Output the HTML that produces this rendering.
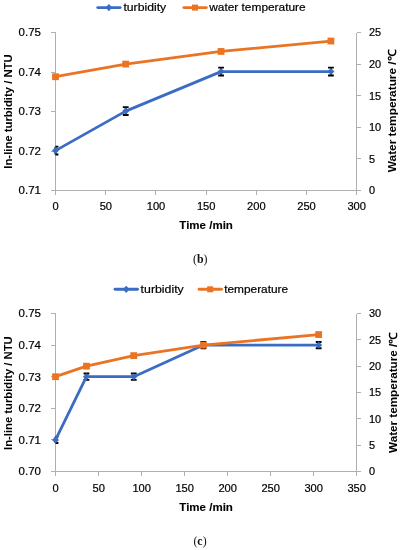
<!DOCTYPE html>
<html><head><meta charset="utf-8"><title>chart</title>
<style>
html,body{margin:0;padding:0;background:#fff;}
svg{display:block;font-family:"Liberation Sans", sans-serif;}
</style></head><body>
<svg width="402" height="550" viewBox="0 0 402 550">
<rect width="402" height="550" fill="#fff"/>
<g stroke="#B0B0B0" stroke-width="1" fill="none" shape-rendering="crispEdges">
<line x1="55.5" y1="32.5" x2="55.5" y2="190.5"/>
<line x1="356.5" y1="32.5" x2="356.5" y2="190.5"/>
<line x1="55.5" y1="190.5" x2="356.5" y2="190.5"/>
<line x1="51.2" y1="190.50" x2="55.5" y2="190.50"/>
<line x1="51.2" y1="151.00" x2="55.5" y2="151.00"/>
<line x1="51.2" y1="111.50" x2="55.5" y2="111.50"/>
<line x1="51.2" y1="72.00" x2="55.5" y2="72.00"/>
<line x1="51.2" y1="32.50" x2="55.5" y2="32.50"/>
<line x1="356.5" y1="190.50" x2="360.5" y2="190.50"/>
<line x1="356.5" y1="158.90" x2="360.5" y2="158.90"/>
<line x1="356.5" y1="127.30" x2="360.5" y2="127.30"/>
<line x1="356.5" y1="95.70" x2="360.5" y2="95.70"/>
<line x1="356.5" y1="64.10" x2="360.5" y2="64.10"/>
<line x1="356.5" y1="32.50" x2="360.5" y2="32.50"/>
<line x1="55.50" y1="190.5" x2="55.50" y2="194.5"/>
<line x1="105.67" y1="190.5" x2="105.67" y2="194.5"/>
<line x1="155.83" y1="190.5" x2="155.83" y2="194.5"/>
<line x1="206.00" y1="190.5" x2="206.00" y2="194.5"/>
<line x1="256.17" y1="190.5" x2="256.17" y2="194.5"/>
<line x1="306.33" y1="190.5" x2="306.33" y2="194.5"/>
<line x1="356.50" y1="190.5" x2="356.50" y2="194.5"/>
</g>
<text x="41.0" y="194.40" text-anchor="end" font-size="10.9" font-weight="normal" fill="#000" stroke="#000" stroke-width="0.2" textLength="22.4" lengthAdjust="spacingAndGlyphs">0.71</text>
<text x="41.0" y="154.90" text-anchor="end" font-size="10.9" font-weight="normal" fill="#000" stroke="#000" stroke-width="0.2" textLength="22.4" lengthAdjust="spacingAndGlyphs">0.72</text>
<text x="41.0" y="115.40" text-anchor="end" font-size="10.9" font-weight="normal" fill="#000" stroke="#000" stroke-width="0.2" textLength="22.4" lengthAdjust="spacingAndGlyphs">0.73</text>
<text x="41.0" y="75.90" text-anchor="end" font-size="10.9" font-weight="normal" fill="#000" stroke="#000" stroke-width="0.2" textLength="22.4" lengthAdjust="spacingAndGlyphs">0.74</text>
<text x="41.0" y="36.40" text-anchor="end" font-size="10.9" font-weight="normal" fill="#000" stroke="#000" stroke-width="0.2" textLength="22.4" lengthAdjust="spacingAndGlyphs">0.75</text>
<text x="369.0" y="194.40" text-anchor="start" font-size="10.9" font-weight="normal" fill="#000" stroke="#000" stroke-width="0.2" textLength="6.1" lengthAdjust="spacingAndGlyphs">0</text>
<text x="369.0" y="162.80" text-anchor="start" font-size="10.9" font-weight="normal" fill="#000" stroke="#000" stroke-width="0.2" textLength="6.1" lengthAdjust="spacingAndGlyphs">5</text>
<text x="369.0" y="131.20" text-anchor="start" font-size="10.9" font-weight="normal" fill="#000" stroke="#000" stroke-width="0.2" textLength="12.2" lengthAdjust="spacingAndGlyphs">10</text>
<text x="369.0" y="99.60" text-anchor="start" font-size="10.9" font-weight="normal" fill="#000" stroke="#000" stroke-width="0.2" textLength="12.2" lengthAdjust="spacingAndGlyphs">15</text>
<text x="369.0" y="68.00" text-anchor="start" font-size="10.9" font-weight="normal" fill="#000" stroke="#000" stroke-width="0.2" textLength="12.2" lengthAdjust="spacingAndGlyphs">20</text>
<text x="369.0" y="36.40" text-anchor="start" font-size="10.9" font-weight="normal" fill="#000" stroke="#000" stroke-width="0.2" textLength="12.2" lengthAdjust="spacingAndGlyphs">25</text>
<text x="55.70" y="210.1" text-anchor="middle" font-size="10.9" font-weight="normal" fill="#000" stroke="#000" stroke-width="0.2" textLength="6.2" lengthAdjust="spacingAndGlyphs">0</text>
<text x="105.87" y="210.1" text-anchor="middle" font-size="10.9" font-weight="normal" fill="#000" stroke="#000" stroke-width="0.2" textLength="12.4" lengthAdjust="spacingAndGlyphs">50</text>
<text x="156.03" y="210.1" text-anchor="middle" font-size="10.9" font-weight="normal" fill="#000" stroke="#000" stroke-width="0.2" textLength="18.6" lengthAdjust="spacingAndGlyphs">100</text>
<text x="206.20" y="210.1" text-anchor="middle" font-size="10.9" font-weight="normal" fill="#000" stroke="#000" stroke-width="0.2" textLength="18.6" lengthAdjust="spacingAndGlyphs">150</text>
<text x="256.37" y="210.1" text-anchor="middle" font-size="10.9" font-weight="normal" fill="#000" stroke="#000" stroke-width="0.2" textLength="18.6" lengthAdjust="spacingAndGlyphs">200</text>
<text x="306.53" y="210.1" text-anchor="middle" font-size="10.9" font-weight="normal" fill="#000" stroke="#000" stroke-width="0.2" textLength="18.6" lengthAdjust="spacingAndGlyphs">250</text>
<text x="356.70" y="210.1" text-anchor="middle" font-size="10.9" font-weight="normal" fill="#000" stroke="#000" stroke-width="0.2" textLength="18.6" lengthAdjust="spacingAndGlyphs">300</text>
<path d="M55.50 146.65V154.55M55.50 146.65H58.40M55.50 154.55H58.40" stroke="#000" stroke-width="1.9" fill="none"/>
<path d="M125.73 107.15V115.05M122.83 107.15H128.63M122.83 115.05H128.63" stroke="#000" stroke-width="1.9" fill="none"/>
<path d="M221.05 67.65V75.55M218.15 67.65H223.95M218.15 75.55H223.95" stroke="#000" stroke-width="1.9" fill="none"/>
<path d="M330.92 67.65V75.55M328.02 67.65H333.81M328.02 75.55H333.81" stroke="#000" stroke-width="1.9" fill="none"/>
<polyline points="55.50,150.60 125.73,111.10 221.05,71.60 330.92,71.60" fill="none" stroke="#3B6CC3" stroke-width="2.8" stroke-linejoin="round" stroke-linecap="round"/>
<path d="M52.00 150.60L55.50 147.10L59.00 150.60L55.50 154.10Z" fill="#3B6CC3"/>
<path d="M122.23 111.10L125.73 107.60L129.23 111.10L125.73 114.60Z" fill="#3B6CC3"/>
<path d="M217.55 71.60L221.05 68.10L224.55 71.60L221.05 75.10Z" fill="#3B6CC3"/>
<path d="M327.42 71.60L330.92 68.10L334.42 71.60L330.92 75.10Z" fill="#3B6CC3"/>
<polyline points="55.50,76.74 125.73,64.10 221.05,51.46 330.92,41.03" fill="none" stroke="#EB7424" stroke-width="2.8" stroke-linejoin="round" stroke-linecap="round"/>
<rect x="52.10" y="73.34" width="6.8" height="6.8" fill="#EB7424"/>
<rect x="122.33" y="60.70" width="6.8" height="6.8" fill="#EB7424"/>
<rect x="217.65" y="48.06" width="6.8" height="6.8" fill="#EB7424"/>
<rect x="327.52" y="37.63" width="6.8" height="6.8" fill="#EB7424"/>
<line x1="97.80000000000001" y1="7.6" x2="120.2" y2="7.6" stroke="#3B6CC3" stroke-width="2.9" stroke-linecap="round"/>
<path d="M105.5 7.6L108.9 3.9999999999999996L112.30000000000001 7.6L108.9 11.2Z" fill="#3B6CC3"/>
<text x="123.4" y="10.899999999999999" text-anchor="start" font-size="11.3" font-weight="normal" fill="#000" stroke="#000" stroke-width="0.2" textLength="42.8" lengthAdjust="spacingAndGlyphs">turbidity</text>
<line x1="183.9" y1="7.6" x2="206.3" y2="7.6" stroke="#EB7424" stroke-width="2.9" stroke-linecap="round"/>
<rect x="192.0" y="4.6" width="6" height="6" fill="#EB7424"/>
<text x="209.2" y="10.899999999999999" text-anchor="start" font-size="11.3" font-weight="normal" fill="#000" stroke="#000" stroke-width="0.2" textLength="96.5" lengthAdjust="spacingAndGlyphs">water temperature</text>
<text x="206.1" y="228.8" text-anchor="middle" font-size="10.5" font-weight="bold" fill="#000" stroke="#000" stroke-width="0.1" textLength="53.6" lengthAdjust="spacingAndGlyphs">Time /min</text>
<text transform="translate(11.6,111.5) rotate(-90)" text-anchor="middle" font-size="10.5" font-weight="bold" fill="#000" textLength="114.4" lengthAdjust="spacingAndGlyphs">In-line turbidity / NTU</text>
<text transform="translate(396.3,110.85) rotate(-90)" text-anchor="middle" font-size="11" font-weight="bold" fill="#000" textLength="122.7" lengthAdjust="spacingAndGlyphs">Water temperature /℃</text>
<text x="200.3" y="263" text-anchor="middle" font-size="12.5" fill="#111" textLength="14.6" lengthAdjust="spacingAndGlyphs" font-family='"Liberation Serif", serif'>(<tspan font-weight="bold">b</tspan>)</text>
<g stroke="#B0B0B0" stroke-width="1" fill="none" shape-rendering="crispEdges">
<line x1="55.5" y1="313.5" x2="55.5" y2="471.5"/>
<line x1="356.5" y1="313.5" x2="356.5" y2="471.5"/>
<line x1="55.5" y1="471.5" x2="356.5" y2="471.5"/>
<line x1="51.2" y1="471.50" x2="55.5" y2="471.50"/>
<line x1="51.2" y1="439.90" x2="55.5" y2="439.90"/>
<line x1="51.2" y1="408.30" x2="55.5" y2="408.30"/>
<line x1="51.2" y1="376.70" x2="55.5" y2="376.70"/>
<line x1="51.2" y1="345.10" x2="55.5" y2="345.10"/>
<line x1="51.2" y1="313.50" x2="55.5" y2="313.50"/>
<line x1="356.5" y1="471.50" x2="360.5" y2="471.50"/>
<line x1="356.5" y1="445.17" x2="360.5" y2="445.17"/>
<line x1="356.5" y1="418.83" x2="360.5" y2="418.83"/>
<line x1="356.5" y1="392.50" x2="360.5" y2="392.50"/>
<line x1="356.5" y1="366.17" x2="360.5" y2="366.17"/>
<line x1="356.5" y1="339.83" x2="360.5" y2="339.83"/>
<line x1="356.5" y1="313.50" x2="360.5" y2="313.50"/>
<line x1="55.50" y1="471.5" x2="55.50" y2="475.5"/>
<line x1="98.50" y1="471.5" x2="98.50" y2="475.5"/>
<line x1="141.50" y1="471.5" x2="141.50" y2="475.5"/>
<line x1="184.50" y1="471.5" x2="184.50" y2="475.5"/>
<line x1="227.50" y1="471.5" x2="227.50" y2="475.5"/>
<line x1="270.50" y1="471.5" x2="270.50" y2="475.5"/>
<line x1="313.50" y1="471.5" x2="313.50" y2="475.5"/>
<line x1="356.50" y1="471.5" x2="356.50" y2="475.5"/>
</g>
<text x="41.0" y="475.40" text-anchor="end" font-size="10.9" font-weight="normal" fill="#000" stroke="#000" stroke-width="0.2" textLength="22.4" lengthAdjust="spacingAndGlyphs">0.70</text>
<text x="41.0" y="443.80" text-anchor="end" font-size="10.9" font-weight="normal" fill="#000" stroke="#000" stroke-width="0.2" textLength="22.4" lengthAdjust="spacingAndGlyphs">0.71</text>
<text x="41.0" y="412.20" text-anchor="end" font-size="10.9" font-weight="normal" fill="#000" stroke="#000" stroke-width="0.2" textLength="22.4" lengthAdjust="spacingAndGlyphs">0.72</text>
<text x="41.0" y="380.60" text-anchor="end" font-size="10.9" font-weight="normal" fill="#000" stroke="#000" stroke-width="0.2" textLength="22.4" lengthAdjust="spacingAndGlyphs">0.73</text>
<text x="41.0" y="349.00" text-anchor="end" font-size="10.9" font-weight="normal" fill="#000" stroke="#000" stroke-width="0.2" textLength="22.4" lengthAdjust="spacingAndGlyphs">0.74</text>
<text x="41.0" y="317.40" text-anchor="end" font-size="10.9" font-weight="normal" fill="#000" stroke="#000" stroke-width="0.2" textLength="22.4" lengthAdjust="spacingAndGlyphs">0.75</text>
<text x="369.0" y="475.40" text-anchor="start" font-size="10.9" font-weight="normal" fill="#000" stroke="#000" stroke-width="0.2" textLength="6.1" lengthAdjust="spacingAndGlyphs">0</text>
<text x="369.0" y="449.07" text-anchor="start" font-size="10.9" font-weight="normal" fill="#000" stroke="#000" stroke-width="0.2" textLength="6.1" lengthAdjust="spacingAndGlyphs">5</text>
<text x="369.0" y="422.73" text-anchor="start" font-size="10.9" font-weight="normal" fill="#000" stroke="#000" stroke-width="0.2" textLength="12.2" lengthAdjust="spacingAndGlyphs">10</text>
<text x="369.0" y="396.40" text-anchor="start" font-size="10.9" font-weight="normal" fill="#000" stroke="#000" stroke-width="0.2" textLength="12.2" lengthAdjust="spacingAndGlyphs">15</text>
<text x="369.0" y="370.07" text-anchor="start" font-size="10.9" font-weight="normal" fill="#000" stroke="#000" stroke-width="0.2" textLength="12.2" lengthAdjust="spacingAndGlyphs">20</text>
<text x="369.0" y="343.73" text-anchor="start" font-size="10.9" font-weight="normal" fill="#000" stroke="#000" stroke-width="0.2" textLength="12.2" lengthAdjust="spacingAndGlyphs">25</text>
<text x="369.0" y="317.40" text-anchor="start" font-size="10.9" font-weight="normal" fill="#000" stroke="#000" stroke-width="0.2" textLength="12.2" lengthAdjust="spacingAndGlyphs">30</text>
<text x="55.70" y="491.5" text-anchor="middle" font-size="10.9" font-weight="normal" fill="#000" stroke="#000" stroke-width="0.2" textLength="6.2" lengthAdjust="spacingAndGlyphs">0</text>
<text x="98.70" y="491.5" text-anchor="middle" font-size="10.9" font-weight="normal" fill="#000" stroke="#000" stroke-width="0.2" textLength="12.4" lengthAdjust="spacingAndGlyphs">50</text>
<text x="141.70" y="491.5" text-anchor="middle" font-size="10.9" font-weight="normal" fill="#000" stroke="#000" stroke-width="0.2" textLength="18.6" lengthAdjust="spacingAndGlyphs">100</text>
<text x="184.70" y="491.5" text-anchor="middle" font-size="10.9" font-weight="normal" fill="#000" stroke="#000" stroke-width="0.2" textLength="18.6" lengthAdjust="spacingAndGlyphs">150</text>
<text x="227.70" y="491.5" text-anchor="middle" font-size="10.9" font-weight="normal" fill="#000" stroke="#000" stroke-width="0.2" textLength="18.6" lengthAdjust="spacingAndGlyphs">200</text>
<text x="270.70" y="491.5" text-anchor="middle" font-size="10.9" font-weight="normal" fill="#000" stroke="#000" stroke-width="0.2" textLength="18.6" lengthAdjust="spacingAndGlyphs">250</text>
<text x="313.70" y="491.5" text-anchor="middle" font-size="10.9" font-weight="normal" fill="#000" stroke="#000" stroke-width="0.2" textLength="18.6" lengthAdjust="spacingAndGlyphs">300</text>
<text x="356.70" y="491.5" text-anchor="middle" font-size="10.9" font-weight="normal" fill="#000" stroke="#000" stroke-width="0.2" textLength="18.6" lengthAdjust="spacingAndGlyphs">350</text>
<path d="M55.50 436.74V443.06M55.50 436.74H58.40M55.50 443.06H58.40" stroke="#000" stroke-width="1.9" fill="none"/>
<path d="M86.46 373.54V379.86M83.56 373.54H89.36M83.56 379.86H89.36" stroke="#000" stroke-width="1.9" fill="none"/>
<path d="M133.76 373.54V379.86M130.86 373.54H136.66M130.86 379.86H136.66" stroke="#000" stroke-width="1.9" fill="none"/>
<path d="M203.42 341.94V348.26M200.52 341.94H206.32M200.52 348.26H206.32" stroke="#000" stroke-width="1.9" fill="none"/>
<path d="M318.66 341.94V348.26M315.76 341.94H321.56M315.76 348.26H321.56" stroke="#000" stroke-width="1.9" fill="none"/>
<polyline points="55.50,439.90 86.46,376.70 133.76,376.70 203.42,345.10 318.66,345.10" fill="none" stroke="#3B6CC3" stroke-width="2.8" stroke-linejoin="round" stroke-linecap="round"/>
<path d="M52.00 439.90L55.50 436.40L59.00 439.90L55.50 443.40Z" fill="#3B6CC3"/>
<path d="M82.96 376.70L86.46 373.20L89.96 376.70L86.46 380.20Z" fill="#3B6CC3"/>
<path d="M130.26 376.70L133.76 373.20L137.26 376.70L133.76 380.20Z" fill="#3B6CC3"/>
<path d="M199.92 345.10L203.42 341.60L206.92 345.10L203.42 348.60Z" fill="#3B6CC3"/>
<path d="M315.16 345.10L318.66 341.60L322.16 345.10L318.66 348.60Z" fill="#3B6CC3"/>
<polyline points="55.50,376.70 86.46,366.17 133.76,355.63 203.42,345.10 318.66,334.57" fill="none" stroke="#EB7424" stroke-width="2.8" stroke-linejoin="round" stroke-linecap="round"/>
<rect x="52.10" y="373.30" width="6.8" height="6.8" fill="#EB7424"/>
<rect x="83.06" y="362.77" width="6.8" height="6.8" fill="#EB7424"/>
<rect x="130.36" y="352.23" width="6.8" height="6.8" fill="#EB7424"/>
<rect x="200.02" y="341.70" width="6.8" height="6.8" fill="#EB7424"/>
<rect x="315.26" y="331.17" width="6.8" height="6.8" fill="#EB7424"/>
<line x1="115.10000000000001" y1="289.3" x2="137.5" y2="289.3" stroke="#3B6CC3" stroke-width="2.9" stroke-linecap="round"/>
<path d="M122.8 289.3L126.2 285.7L129.6 289.3L126.2 292.90000000000003Z" fill="#3B6CC3"/>
<text x="140.6" y="292.6" text-anchor="start" font-size="11.3" font-weight="normal" fill="#000" stroke="#000" stroke-width="0.2" textLength="43.2" lengthAdjust="spacingAndGlyphs">turbidity</text>
<line x1="199.1" y1="289.3" x2="221.5" y2="289.3" stroke="#EB7424" stroke-width="2.9" stroke-linecap="round"/>
<rect x="207.2" y="286.3" width="6" height="6" fill="#EB7424"/>
<text x="224.2" y="292.6" text-anchor="start" font-size="11.3" font-weight="normal" fill="#000" stroke="#000" stroke-width="0.2" textLength="64" lengthAdjust="spacingAndGlyphs">temperature</text>
<text x="206.1" y="510.8" text-anchor="middle" font-size="10.5" font-weight="bold" fill="#000" stroke="#000" stroke-width="0.1" textLength="53.6" lengthAdjust="spacingAndGlyphs">Time /min</text>
<text transform="translate(11.6,393.1) rotate(-90)" text-anchor="middle" font-size="10.5" font-weight="bold" fill="#000" textLength="113.6" lengthAdjust="spacingAndGlyphs">In-line turbidity / NTU</text>
<text transform="translate(396.5,392.5) rotate(-90)" text-anchor="middle" font-size="11" font-weight="bold" fill="#000" textLength="120.8" lengthAdjust="spacingAndGlyphs">Water temperature /℃</text>
<text x="200" y="545.2" text-anchor="middle" font-size="12.5" fill="#111" textLength="13.2" lengthAdjust="spacingAndGlyphs" font-family='"Liberation Serif", serif'>(<tspan font-weight="bold">c</tspan>)</text>
</svg>
</body></html>
